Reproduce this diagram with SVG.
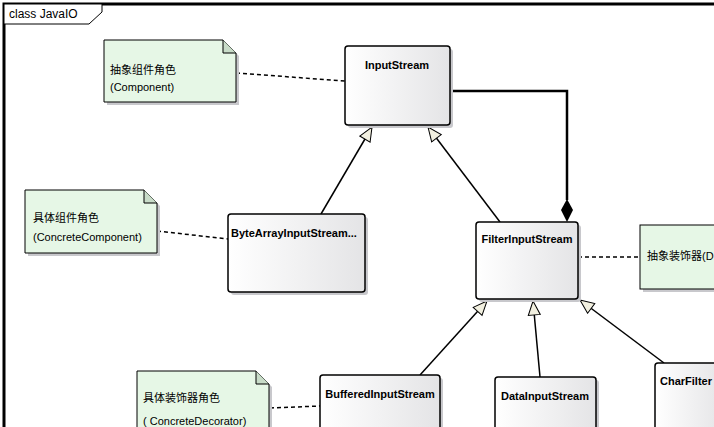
<svg xmlns="http://www.w3.org/2000/svg" width="714" height="427" viewBox="0 0 714 427">
<defs>
<linearGradient id="g" x1="0" x2="1" y1="0" y2="0"><stop offset="0" stop-color="#ffffff"/><stop offset="1" stop-color="#e4e4e6"/></linearGradient>
<marker id="tri" markerWidth="16" markerHeight="16" refX="15" refY="7" orient="auto" markerUnits="userSpaceOnUse"><path d="M1,1 L15,7 L1,13 Z" fill="#f2f0e0" stroke="#000" stroke-width="1"/></marker>
</defs>
<style>
text{font-family:"Liberation Sans","Noto Sans CJK SC",sans-serif;font-size:11px;fill:#000}
.b{font-weight:bold}
.cls{fill:url(#g);stroke:#000;stroke-width:1.5}
.sh{fill:#c8c8cc}
.note{fill:#e6f7e6;stroke:#000;stroke-width:1}
.ln{stroke:#000;stroke-width:1.5;fill:none}
.dash{stroke:#000;stroke-width:1.5;stroke-dasharray:4 3;fill:none}
</style>
<rect width="714" height="427" fill="#fff"/>
<path d="M4,427 V4 H714" fill="none" stroke="#000" stroke-width="3"/>
<path d="M4,4 H102 V12 L89,24 H4 Z" fill="#fff" stroke="#000" stroke-width="1"/>
<text x="9" y="18" style="font-size:12px">class JavaIO</text>
<g id="connectors">
<path class="dash" d="M236,73 L345,81"/>
<path class="dash" d="M157,231 L228,239"/>
<path class="dash" d="M578,257 L640,257"/>
<path class="dash" d="M270,408 L320,406"/>
<path class="ln" d="M567,200 V91 H450" style="stroke-width:2.5"/>
<path d="M567,199 L573,210 L567,222 L561,210 Z" fill="#000"/>
<path class="ln" d="M321,214 L372,127" marker-end="url(#tri)"/>
<path class="ln" d="M500,222 L428,127" marker-end="url(#tri)"/>
<path class="ln" d="M420,375 L487,301" marker-end="url(#tri)"/>
<path class="ln" d="M540,377 L533,301" marker-end="url(#tri)"/>
<path class="ln" d="M664,363 L580,300" marker-end="url(#tri)"/>
</g>
<g id="note1"><path class="sh" d="M107,43 H226 L239,56 V105 H107 Z"/><path class="note" d="M104,40 H223 L236,53 V102 H104 Z"/><path d="M223,40 V53 H236" fill="#c8dcc8" stroke="#000"/><text x="110" y="74">抽象组件角色</text><text x="110" y="91">(Component)</text></g>
<g id="InputStream"><rect class="sh" x="348" y="49" width="105" height="79" rx="3"/><rect class="cls" x="345" y="46" width="105" height="79" rx="3"/><text class="b" x="397" y="69" text-anchor="middle">InputStream</text></g>
<g id="note2"><path class="sh" d="M28,193 H147 L160,206 V256 H28 Z"/><path class="note" d="M25,190 H144 L157,203 V253 H25 Z"/><path d="M144,190 V203 H157" fill="#c8dcc8" stroke="#000"/><text x="33" y="222">具体组件角色</text><text x="33" y="241">(ConcreteComponent)</text></g>
<g id="ByteArrayInputStream"><rect class="sh" x="231" y="217" width="137" height="78" rx="3"/><rect class="cls" x="228" y="214" width="137" height="78" rx="3"/><text class="b" x="231" y="237">ByteArrayInputStream...</text></g>
<g id="FilterInputStream"><rect class="sh" x="479" y="225" width="102" height="77" rx="3"/><rect class="cls" x="476" y="222" width="102" height="77" rx="3"/><text class="b" x="527" y="243" text-anchor="middle">FilterInputStream</text></g>
<g id="note3"><rect class="sh" x="643" y="228" width="80" height="64"/><rect class="note" x="640" y="225" width="80" height="64"/><text x="647" y="260">抽象装饰器(D</text></g>
<g id="note4"><path class="sh" d="M140,374 H259 L272,387 V430 H140 Z"/><path class="note" d="M137,371 H256 L269,384 V430 H137 Z"/><path d="M256,371 V384 H269" fill="#c8dcc8" stroke="#000"/><text x="143" y="402">具体装饰器角色</text><text x="143" y="425">( ConcreteDecorator)</text></g>
<g id="BufferedInputStream"><rect class="sh" x="323" y="378" width="120" height="55" rx="3"/><rect class="cls" x="320" y="375" width="120" height="60" rx="3"/><text class="b" x="380" y="398" text-anchor="middle">BufferedInputStream</text></g>
<g id="DataInputStream"><rect class="sh" x="498" y="380" width="101" height="55" rx="3"/><rect class="cls" x="495" y="377" width="101" height="60" rx="3"/><text class="b" x="545" y="400" text-anchor="middle">DataInputStream</text></g>
<g id="CharFilter"><rect class="cls" x="655" y="363" width="70" height="70" rx="3"/><text class="b" x="660" y="385">CharFilter</text></g>
</svg>
